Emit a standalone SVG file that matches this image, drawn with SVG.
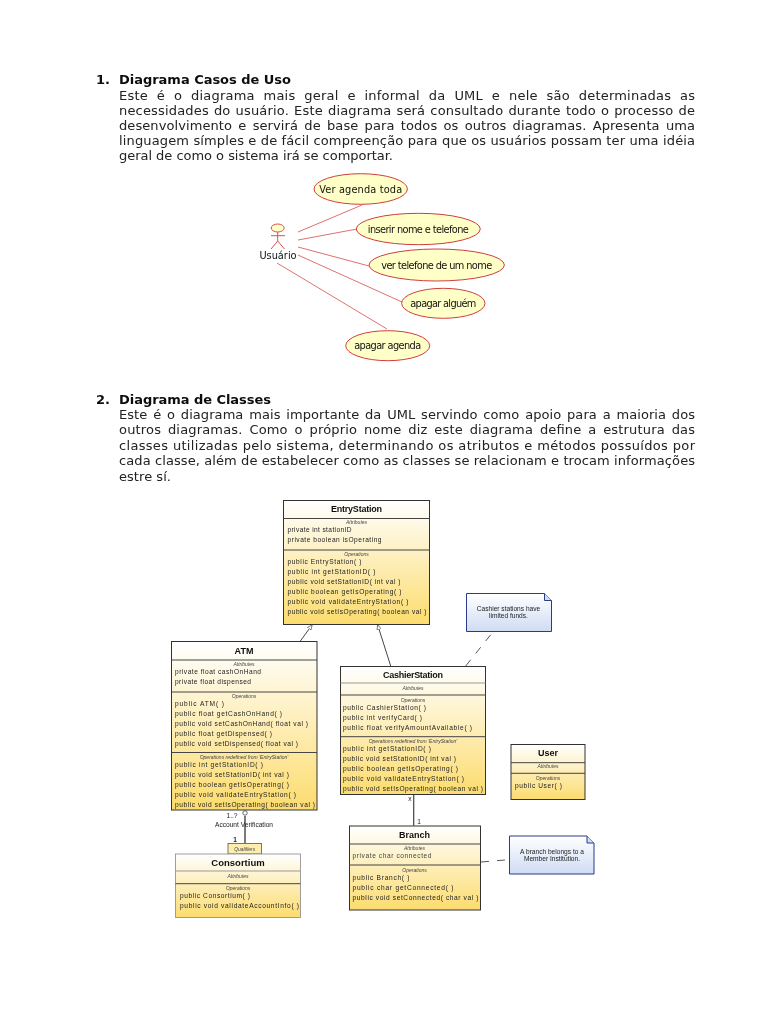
<svg xmlns="http://www.w3.org/2000/svg" width="768" height="1024" viewBox="0 0 768 1024">
<style>
.p{font:13px "DejaVu Sans",sans-serif;fill:#222}
.h{font:bold 13px "DejaVu Sans",sans-serif;fill:#111}
.uc{font:9.8px "DejaVu Sans",sans-serif;fill:#111;text-anchor:middle}
.t{font:bold 9px "Liberation Sans",sans-serif;fill:#111;text-anchor:middle}
.m{font:6.6px "Liberation Sans",sans-serif;fill:#222}
.s{font:italic 5px "Liberation Sans",sans-serif;fill:#444;text-anchor:middle}
.n{font:6.6px "Liberation Sans",sans-serif;fill:#222;text-anchor:middle}
.ell{fill:#ffffc8;stroke:#d03c3c;stroke-width:1}
.lk{fill:none;stroke:#e07070;stroke-width:1}
.act{fill:#ffffc8;stroke:#d8504a;stroke-width:1}
.box{fill:url(#g);stroke:#333;stroke-width:1}
.div{stroke:#444;stroke-width:1}
.note{fill:url(#b);stroke:#2a3a8c;stroke-width:1}
.con{fill:none;stroke:#444;stroke-width:1}
.dash{fill:none;stroke:#555;stroke-width:1;stroke-dasharray:8 8}
</style>
<defs>
<linearGradient id="g" x1="0" y1="0" x2="0" y2="1"><stop offset="0" stop-color="#ffffff"/><stop offset="1" stop-color="#fcdc6e"/></linearGradient>
<linearGradient id="b" x1="0" y1="0" x2="0" y2="1"><stop offset="0" stop-color="#ffffff"/><stop offset="1" stop-color="#cfdcf4"/></linearGradient>
<marker id="tri" viewBox="0 0 8 8" refX="7.5" refY="4" markerWidth="5" markerHeight="5" orient="auto" markerUnits="userSpaceOnUse"><path d="M0 0.5L8 4L0 7.5Z" fill="#fff" stroke="#444"/></marker>
<filter id="bl" x="-5%" y="-5%" width="110%" height="110%"><feGaussianBlur stdDeviation="0.45"/></filter>
<filter id="bt" x="-2%" y="-20%" width="104%" height="140%"><feGaussianBlur stdDeviation="0.3"/></filter>
</defs>
<rect width="768" height="1024" fill="#fff"/>

<g id="section1" filter="url(#bt)">
<text class="h" x="96" y="84">1.</text>
<text class="h" x="119" y="84" textLength="172">Diagrama Casos de Uso</text>
<text class="p" x="119" y="99.5" word-spacing="4.6" textLength="576">Este é o diagrama mais geral e informal da UML e nele são determinadas as</text>
<text class="p" x="119" y="114.5" word-spacing="0.8" textLength="576">necessidades do usuário. Este diagrama será consultado durante todo o processo de</text>
<text class="p" x="119" y="129.5" word-spacing="2.1" textLength="576">desenvolvimento e servirá de base para todos os outros diagramas. Apresenta uma</text>
<text class="p" x="119" y="144.5" textLength="576">linguagem símples e de fácil compreenção para que os usuários possam ter uma idéia</text>
<text class="p" x="119" y="159.5" textLength="274">geral de como o sistema irá se comportar.</text>
</g>

<g id="usecase-links" filter="url(#bt)">
<path class="lk" d="M298 232L362 205M298 240L357 229M298 247L369 266M298 255L402 302M277 263L387 329"/>
</g>
<g id="actor" filter="url(#bl)">
<ellipse class="act" cx="277.7" cy="228" rx="6.5" ry="4"/>
<path class="act" d="M277.7 232V241M271 235.7H285M271 249L277.7 241L284.5 249" style="fill:none"/>
<text class="uc" x="278" y="259" fill="#333">Usuário</text>
</g>
<g id="uc1" filter="url(#bl)"><ellipse class="ell" cx="360.7" cy="189" rx="46.7" ry="15.3"/><text class="uc" x="360.7" y="192.5" textLength="83">Ver agenda toda</text></g>
<g id="uc2" filter="url(#bl)"><ellipse class="ell" cx="418.3" cy="229" rx="62" ry="15.7"/><text class="uc" x="418.3" y="232.5" textLength="101">inserir nome e telefone</text></g>
<g id="uc3" filter="url(#bl)"><ellipse class="ell" cx="436.7" cy="265" rx="67.7" ry="16"/><text class="uc" x="436.7" y="268.5" textLength="111">ver telefone de um nome</text></g>
<g id="uc4" filter="url(#bl)"><ellipse class="ell" cx="443.3" cy="303.3" rx="41.7" ry="15"/><text class="uc" x="443.3" y="306.5" textLength="66">apagar alguém</text></g>
<g id="uc5" filter="url(#bl)"><ellipse class="ell" cx="387.7" cy="345.7" rx="42" ry="15"/><text class="uc" x="387.7" y="349" textLength="67">apagar agenda</text></g>

<g id="section2" filter="url(#bt)">
<text class="h" x="96" y="404">2.</text>
<text class="h" x="119" y="404" textLength="152">Diagrama de Classes</text>
<text class="p" x="119" y="419" word-spacing="1.6" textLength="576">Este é o diagrama mais importante da UML servindo como apoio para a maioria dos</text>
<text class="p" x="119" y="434" word-spacing="2.5" textLength="576">outros diagramas. Como o próprio nome diz este diagrama define a estrutura das</text>
<text class="p" x="119" y="449.5" word-spacing="0.2" textLength="576">classes utilizadas pelo sistema, determinando os atributos e métodos possuídos por</text>
<text class="p" x="119" y="465" textLength="576">cada classe, além de estabelecer como as classes se relacionam e trocam informações</text>
<text class="p" x="119" y="481" textLength="52">estre sí.</text>
</g>

<g id="connectors" filter="url(#bl)">
<path class="con" d="M300 641.5L312 625" marker-end="url(#tri)"/>
<path class="con" d="M390.7 666L377.7 625" marker-end="url(#tri)"/>
<path class="dash" d="M465.7 666L492.3 632.7"/>
<path class="con" d="M413.7 794.5V825.7" style="stroke-width:1.2"/>
<path class="con" d="M245 816V843.3" style="stroke-width:1.4"/>
<circle cx="245" cy="813" r="2.2" fill="#fff" stroke="#444" stroke-width=".8"/>
<path class="dash" d="M481 862L505 860"/>
<text class="n" x="410" y="801">x</text>
<text class="n" x="419" y="824">1</text>
<text class="n" x="232" y="818">1..?</text>
<text class="n" x="244" y="827" textLength="58">Account Verification</text>
<text class="n" x="235" y="842" style="font-weight:bold">1</text>
</g>

<g id="EntryStation" filter="url(#bl)">
<rect class="box" x="283.5" y="500.5" width="146" height="124"/>
<path class="div" d="M283.5 518.5H429.5M283.5 550H429.5"/>
<text class="t" x="356.5" y="511.5" textLength="51">EntryStation</text>
<text class="s" x="356.5" y="524">Attributes</text>
<text class="m" x="287.5" y="532" textLength="64">private int stationID</text>
<text class="m" x="287.5" y="542" textLength="94">private boolean isOperating</text>
<text class="s" x="356.5" y="556">Operations</text>
<text class="m" x="287.5" y="563.5" textLength="74">public EntryStation( )</text>
<text class="m" x="287.5" y="573.5" textLength="88">public int getStationID( )</text>
<text class="m" x="287.5" y="583.5" textLength="113">public void setStationID( int val )</text>
<text class="m" x="287.5" y="593.5" textLength="114">public boolean getIsOperating( )</text>
<text class="m" x="287.5" y="603.5" textLength="121">public void validateEntryStation( )</text>
<text class="m" x="287.5" y="613.5" textLength="139">public void setIsOperating( boolean val )</text>
</g>

<g id="ATM" filter="url(#bl)">
<rect class="box" x="171.5" y="641.5" width="145.5" height="168.5"/>
<path class="div" d="M171.5 660H317M171.5 692H317M171.5 752.5H317"/>
<text class="t" x="244" y="653.5">ATM</text>
<text class="s" x="244" y="666">Attributes</text>
<text class="m" x="175" y="674" textLength="86">private float cashOnHand</text>
<text class="m" x="175" y="684" textLength="76">private float dispensed</text>
<text class="s" x="244" y="698">Operations</text>
<text class="m" x="175" y="705.5" textLength="49">public ATM( )</text>
<text class="m" x="175" y="715.5" textLength="107">public float getCashOnHand( )</text>
<text class="m" x="175" y="725.5" textLength="133">public void setCashOnHand( float val )</text>
<text class="m" x="175" y="735.5" textLength="97">public float getDispensed( )</text>
<text class="m" x="175" y="745.5" textLength="123">public void setDispensed( float val )</text>
<text class="s" x="244" y="759">Operations redefined from 'EntryStation'</text>
<text class="m" x="175" y="766.5" textLength="88">public int getStationID( )</text>
<text class="m" x="175" y="776.5" textLength="114">public void setStationID( int val )</text>
<text class="m" x="175" y="786.5" textLength="114">public boolean getIsOperating( )</text>
<text class="m" x="175" y="796.5" textLength="121">public void validateEntryStation( )</text>
<text class="m" x="175" y="806.5" textLength="140">public void setIsOperating( boolean val )</text>
</g>

<g id="Qualifiers" filter="url(#bl)">
<rect x="228" y="843.5" width="33.5" height="10.5" fill="#fdeeb0" stroke="#555" stroke-width=".8"/>
<text class="s" x="244.7" y="851">Qualifiers</text>
</g>

<g id="Consortium" filter="url(#bl)">
<rect x="175.5" y="854" width="125" height="63.5" fill="url(#g)" stroke="#888" stroke-width=".8"/>
<path class="div" d="M175.5 871H300.5" style="stroke:#999"/>
<path class="div" d="M175.5 883.7H300.5"/>
<text class="t" x="238" y="865.5" style="font-size:9.5px">Consortium</text>
<text class="s" x="238" y="878">Attributes</text>
<text class="s" x="238" y="890">Operations</text>
<text class="m" x="180" y="897.5" textLength="70">public Consortium( )</text>
<text class="m" x="180" y="907.5" textLength="119">public void validateAccountInfo( )</text>
</g>

<g id="CashierStation" filter="url(#bl)">
<rect class="box" x="340.5" y="666.5" width="145" height="128"/>
<path class="div" d="M340.5 683H485.5" style="stroke:#999"/>
<path class="div" d="M340.5 695H485.5M340.5 736.7H485.5"/>
<text class="t" x="413" y="677.5" textLength="60">CashierStation</text>
<text class="s" x="413" y="690">Attributes</text>
<text class="s" x="413" y="701.5">Operations</text>
<text class="m" x="343" y="709.5" textLength="83">public CashierStation( )</text>
<text class="m" x="343" y="719.5" textLength="79">public int verifyCard( )</text>
<text class="m" x="343" y="729.5" textLength="129">public float verifyAmountAvailable( )</text>
<text class="s" x="413" y="743">Operations redefined from 'EntryStation'</text>
<text class="m" x="343" y="750.5" textLength="88">public int getStationID( )</text>
<text class="m" x="343" y="760.5" textLength="113">public void setStationID( int val )</text>
<text class="m" x="343" y="770.5" textLength="115">public boolean getIsOperating( )</text>
<text class="m" x="343" y="780.5" textLength="121">public void validateEntryStation( )</text>
<text class="m" x="343" y="790.5" textLength="140">public void setIsOperating( boolean val )</text>
</g>

<g id="User" filter="url(#bl)">
<rect class="box" x="511" y="744.5" width="74" height="55"/>
<path class="div" d="M511 762.7H585M511 773.3H585"/>
<text class="t" x="548" y="755.5">User</text>
<text class="s" x="548" y="768">Attributes</text>
<text class="s" x="548" y="780">Operations</text>
<text class="m" x="515" y="787.5" textLength="47">public User( )</text>
</g>

<g id="Branch" filter="url(#bl)">
<rect class="box" x="349.5" y="826" width="131" height="84"/>
<path class="div" d="M349.5 844H480.5M349.5 865H480.5"/>
<text class="t" x="414.5" y="837.5">Branch</text>
<text class="s" x="414.5" y="850">Attributes</text>
<text class="m" x="352.5" y="857.5" textLength="79" style="fill:#444">private char connected</text>
<text class="s" x="414.5" y="871.5">Operations</text>
<text class="m" x="352.5" y="879.5" textLength="57">public Branch( )</text>
<text class="m" x="352.5" y="889.5" textLength="101">public char getConnected( )</text>
<text class="m" x="352.5" y="899.5" textLength="126">public void setConnected( char val )</text>
</g>

<g id="note-cashier" filter="url(#bl)">
<path class="note" d="M466.5 593.5H544.5L551.5 600.5V631.5H466.5Z"/>
<path d="M544.5 593.5V600.5H551.5" fill="#cfdcf4" stroke="#2a3a8c" stroke-width="1"/>
<text class="n" x="508.5" y="610.5">Cashier stations have</text>
<text class="n" x="508.5" y="617.5">limited funds.</text>
</g>

<g id="note-branch" filter="url(#bl)">
<path class="note" d="M509.5 836H587L594 843V874H509.5Z"/>
<path d="M587 836V843H594" fill="#cfdcf4" stroke="#2a3a8c" stroke-width="1"/>
<text class="n" x="552" y="853.5">A branch belongs to a</text>
<text class="n" x="552" y="860.5">Member Institution.</text>
</g>
</svg>
